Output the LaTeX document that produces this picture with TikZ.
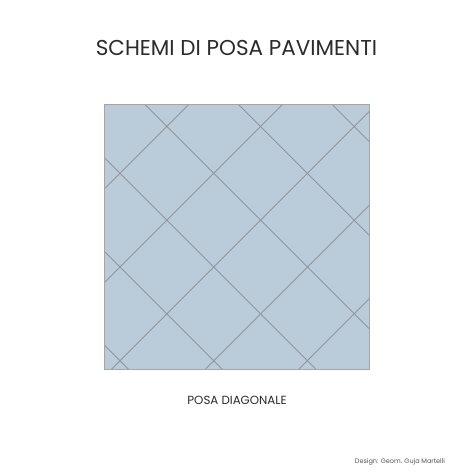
\documentclass[tikz,border=0pt]{standalone}
\usepackage{fontspec}
\setmainfont{Poppins}
\definecolor{tilefill}{HTML}{BACBD9}
\definecolor{joint}{HTML}{8F979E}
\definecolor{frame}{HTML}{A3A6A8}
\definecolor{ink}{HTML}{2B2B2B}
\definecolor{credit}{HTML}{555555}
\tikzset{
  titletext/.style={text=ink, font=\fontsize{21.5}{24}\selectfont, inner sep=0pt},
  captiontext/.style={text=ink, font=\fontsize{11.8}{14}\selectfont, inner sep=0pt},
  credittext/.style={text=credit, font=\fontsize{6.5}{8}\selectfont, inner sep=0pt},
  jointline/.style={draw=joint, line width=0.9pt},
}
\begin{document}
\begin{tikzpicture}[x=1pt,y=-1pt]
\useasboundingbox[fill=white] (0,0) rectangle (474,474);
\node[titletext] (title) at (236.5,47.5) {SCHEMI DI POSA PAVIMENTI};
\fill[tilefill] (104.5,104.5) rectangle (369,369);
\begin{scope}
  \clip (104.5,104.5) rectangle (369,369);
  \foreach \c in {293.3,387,480.7,574.4,668.1}
    \draw[jointline] (\c,0) -- (0,\c);
  \foreach \d in {-240.7,-147,-53.3,40.4,134.1,227.8}
    \draw[jointline] (\d,0) -- (\d+650,650);
\end{scope}
\draw[frame, line width=0.9pt] (104.5,104.5) rectangle (369,369);
\node[captiontext] (caption) at (237,400) {POSA DIAGONALE};
\node[credittext] (credit) at (400,461.5) {Design: Geom. Guja Martelli};
\end{tikzpicture}
\end{document}
